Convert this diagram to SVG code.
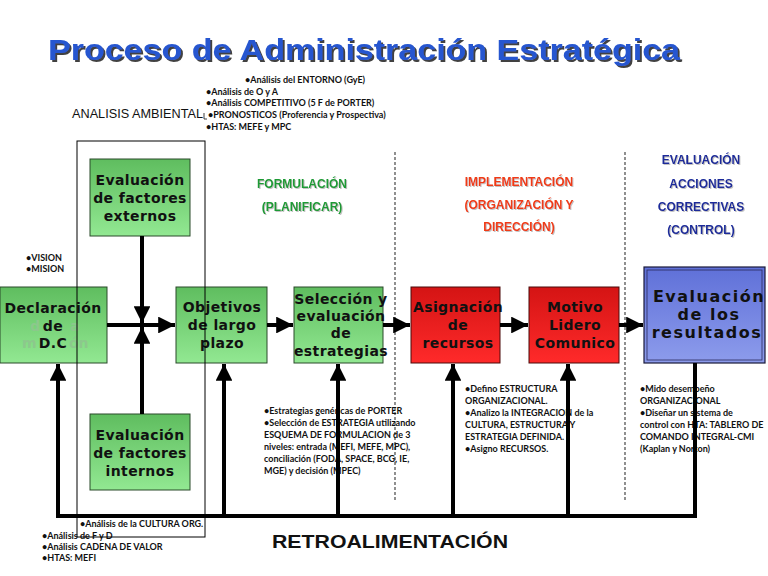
<svg xmlns="http://www.w3.org/2000/svg" width="768" height="576" viewBox="0 0 768 576">
<defs>
<linearGradient id="gG" x1="0" y1="0" x2="0" y2="1"><stop offset="0" stop-color="#5fbd5f"/><stop offset="1" stop-color="#92e892"/></linearGradient>
<linearGradient id="gR" x1="0" y1="0" x2="0" y2="1"><stop offset="0" stop-color="#d41414"/><stop offset="1" stop-color="#ff2a2a"/></linearGradient>
<linearGradient id="gB" x1="0" y1="0" x2="0" y2="1"><stop offset="0" stop-color="#5f70d8"/><stop offset="1" stop-color="#8d9cec"/></linearGradient>
<filter id="sh" x="-5%" y="-20%" width="110%" height="150%"><feDropShadow dx="2" dy="2" stdDeviation="0.6" flood-color="#222" flood-opacity="0.85"/></filter>
<filter id="sh2" x="-5%" y="-20%" width="110%" height="150%"><feDropShadow dx="1" dy="1" stdDeviation="0.4" flood-color="#999" flood-opacity="0.6"/></filter>
<marker id="ah" viewBox="0 0 10 10" refX="10" refY="5" markerWidth="4.2" markerHeight="4.2" markerUnits="strokeWidth" orient="auto"><path d="M0,0 L10,5 L0,10 z" fill="#000"/></marker>
</defs>
<style>
.bx{font-family:"DejaVu Sans",sans-serif;font-weight:bold;font-size:14px;letter-spacing:0.4px;text-anchor:middle;fill:#111}
.gh{font-family:"DejaVu Sans",sans-serif;font-weight:bold;font-size:14px;fill:#8cc88c}
.big{font-size:16px;letter-spacing:1.5px}
.sm{font-family:Lato,"Liberation Sans",sans-serif;font-weight:bold;font-size:9px;fill:#111}
.ph{font-family:"Liberation Sans",Arial,sans-serif;font-weight:bold;font-size:12px;text-anchor:middle}
.ln{stroke:#000;stroke-width:4;fill:none}
.dash{stroke:#555;stroke-width:1.3;stroke-dasharray:3,2;fill:none}
.green{fill:url(#gG);stroke:#2a4a2a;stroke-width:1}
.red{fill:url(#gR);stroke:#4a0a0a;stroke-width:1}
</style>
<rect width="768" height="576" fill="#fff"/>

<text x="48" y="60" font-family="Liberation Sans,Arial,sans-serif" font-weight="bold" font-size="30" fill="#2857d0" textLength="632" lengthAdjust="spacingAndGlyphs" filter="url(#sh)">Proceso de Administración Estratégica</text>

<g id="ambiental-label">
<text x="72" y="118" font-family="Liberation Sans,Arial,sans-serif" font-size="13" fill="#111" textLength="131" lengthAdjust="spacingAndGlyphs">ANALISIS AMBIENTAL</text>
<path d="M204,113 V119 H207" stroke="#111" stroke-width="0.8" fill="none"/>
<text class="sm" x="245" y="83">•Análisis del ENTORNO (GyE)</text>
<text class="sm" x="206" y="95">•Análisis de O y A</text>
<text class="sm" x="206" y="106">•Análisis COMPETITIVO (5 F de PORTER)</text>
<text class="sm" x="208" y="118">•PRONOSTICOS (Proferencia y Prospectiva)</text>
<text class="sm" x="206" y="130">•HTAS: MEFE y MPC</text>
</g>

<g id="phase-formulacion">
<text class="ph" x="302" y="188" fill="#1c9a34" filter="url(#sh2)">FORMULACIÓN</text>
<text class="ph" x="302" y="211" fill="#1c9a34" filter="url(#sh2)">(PLANIFICAR)</text>
</g>
<g id="phase-implementacion">
<text class="ph" x="519" y="186" fill="#f03a12" filter="url(#sh2)">IMPLEMENTACIÓN</text>
<text class="ph" x="519" y="209" fill="#f03a12" filter="url(#sh2)">(ORGANIZACIÓN Y</text>
<text class="ph" x="519" y="231" fill="#f03a12" filter="url(#sh2)">DIRECCIÓN)</text>
</g>
<g id="phase-evaluacion">
<text class="ph" x="701" y="164" fill="#1a2a9a" filter="url(#sh2)">EVALUACIÓN</text>
<text class="ph" x="701" y="188" fill="#1a2a9a" filter="url(#sh2)">ACCIONES</text>
<text class="ph" x="701" y="211" fill="#1a2a9a" filter="url(#sh2)">CORRECTIVAS</text>
<text class="ph" x="701" y="234" fill="#1a2a9a" filter="url(#sh2)">(CONTROL)</text>
</g>

<g id="dividers">
<line class="dash" x1="395" y1="152" x2="395" y2="500"/>
<line class="dash" x1="625" y1="152" x2="625" y2="500"/>
</g>

<g id="notes">
<text class="sm" x="26" y="261">•VISION</text>
<text class="sm" x="26" y="272">•MISION</text>
<text class="sm" x="80" y="527">•Análisis de la CULTURA ORG.</text>
<text class="sm" x="42" y="539">•Análisis de F y D</text>
<text class="sm" x="42" y="550">•Análisis CADENA DE VALOR</text>
<text class="sm" x="42" y="561">•HTAS: MEFI</text>
<text class="sm" x="264" y="414">•Estrategias genéricas de PORTER</text>
<text class="sm" x="264" y="426">•Selección de ESTRATEGIA utilizando</text>
<text class="sm" x="264" y="438">ESQUEMA DE FORMULACION de 3</text>
<text class="sm" x="264" y="450">niveles: entrada (MEFI, MEFE, MPC),</text>
<text class="sm" x="264" y="462">conciliación (FODA, SPACE, BCG, IE,</text>
<text class="sm" x="264" y="474">MGE) y decisión (MPEC)</text>
<text class="sm" x="465" y="392">•Defino ESTRUCTURA</text>
<text class="sm" x="465" y="404">ORGANIZACIONAL.</text>
<text class="sm" x="465" y="416">•Analizo la INTEGRACION de la</text>
<text class="sm" x="465" y="428">CULTURA, ESTRUCTURA Y</text>
<text class="sm" x="465" y="440">ESTRATEGIA DEFINIDA.</text>
<text class="sm" x="465" y="452">•Asigno RECURSOS.</text>
<text class="sm" x="640" y="392">•Mido desempeño</text>
<text class="sm" x="640" y="404">ORGANIZACIONAL</text>
<text class="sm" x="640" y="416">•Diseñar un sistema de</text>
<text class="sm" x="640" y="428">control con HTA: TABLERO DE</text>
<text class="sm" x="640" y="440">COMANDO INTEGRAL-CMI</text>
<text class="sm" x="640" y="452">(Kaplan y Norton)</text>
</g>

<g id="node-externos">
<rect class="green" x="90" y="159" width="100" height="77"/>
<text class="bx" x="140" y="185">Evaluación</text>
<text class="bx" x="140" y="203">de factores</text>
<text class="bx" x="140" y="221">externos</text>
</g>
<g id="node-internos">
<rect class="green" x="90" y="414" width="100" height="76"/>
<text class="bx" x="140" y="440">Evaluación</text>
<text class="bx" x="140" y="458">de factores</text>
<text class="bx" x="140" y="476">internos</text>
</g>
<g id="node-declaracion">
<rect class="green" x="0" y="287" width="107" height="76"/>
<text class="bx" x="53" y="313">Declaración</text>
<text class="gh" x="30" y="331">d</text>
<text class="gh" x="70" y="331">a</text>
<text class="gh" x="22" y="348">m</text>
<text class="gh" x="69" y="348">ón</text>
<text class="bx" x="53" y="331">de</text>
<text class="bx" x="53" y="348">D.C</text>
</g>
<g id="node-objetivos">
<rect class="green" x="176" y="287" width="91" height="76"/>
<text class="bx" x="222" y="312">Objetivos</text>
<text class="bx" x="222" y="330">de largo</text>
<text class="bx" x="222" y="348">plazo</text>
</g>
<g id="node-seleccion">
<rect class="green" x="294" y="287" width="89" height="76"/>
<text class="bx" x="341" y="304">Selección y</text>
<text class="bx" x="341" y="321">evaluación</text>
<text class="bx" x="341" y="338">de</text>
<text class="bx" x="341" y="356">estrategias</text>
</g>
<g id="node-asignacion">
<rect class="red" x="411" y="287" width="89" height="76"/>
<text class="bx" x="458" y="312">Asignación</text>
<text class="bx" x="458" y="330">de</text>
<text class="bx" x="458" y="348">recursos</text>
</g>
<g id="node-motivo">
<rect class="red" x="529" y="287" width="90" height="76"/>
<text class="bx" x="575" y="312">Motivo</text>
<text class="bx" x="575" y="330">Lidero</text>
<text class="bx" x="575" y="348">Comunico</text>
</g>
<g id="node-resultados">
<rect x="644" y="267" width="121" height="96" fill="url(#gB)" stroke="#1a1a3a" stroke-width="1.2"/>
<rect x="647" y="270" width="115" height="90" fill="none" stroke="#2a2a5a" stroke-width="0.8"/>
<text class="bx big" x="709" y="302">Evaluación</text>
<text class="bx big" x="709" y="320">de los</text>
<text class="bx big" x="707" y="338">resultados</text>
</g>

<g id="connectors">
<line class="ln" x1="107" y1="325" x2="175" y2="325" marker-end="url(#ah)"/>
<line class="ln" x1="142" y1="236" x2="142" y2="323" marker-end="url(#ah)"/>
<line class="ln" x1="142" y1="414" x2="142" y2="327" marker-end="url(#ah)"/>
<line class="ln" x1="267" y1="325" x2="293" y2="325" marker-end="url(#ah)"/>
<line class="ln" x1="383" y1="325" x2="410" y2="325" marker-end="url(#ah)"/>
<line class="ln" x1="500" y1="325" x2="528" y2="325" marker-end="url(#ah)"/>
<line class="ln" x1="619" y1="325" x2="643" y2="325" marker-end="url(#ah)"/>
<path class="ln" d="M695,363 V516 H58"/>
<line class="ln" x1="58" y1="518" x2="58" y2="364" marker-end="url(#ah)"/>
<line class="ln" x1="224" y1="516" x2="224" y2="364" marker-end="url(#ah)"/>
<line class="ln" x1="338" y1="516" x2="338" y2="364" marker-end="url(#ah)"/>
<line class="ln" x1="453" y1="516" x2="453" y2="364" marker-end="url(#ah)"/>
<line class="ln" x1="568" y1="516" x2="568" y2="364" marker-end="url(#ah)"/>
</g>

<rect id="ambiental-frame" x="77" y="141" width="128" height="396" fill="none" stroke="#000" stroke-width="1"/>

<text x="272" y="548" font-family="Liberation Sans,Arial,sans-serif" font-weight="bold" font-size="19" fill="#111" textLength="236" lengthAdjust="spacingAndGlyphs">RETROALIMENTACIÓN</text>
</svg>
